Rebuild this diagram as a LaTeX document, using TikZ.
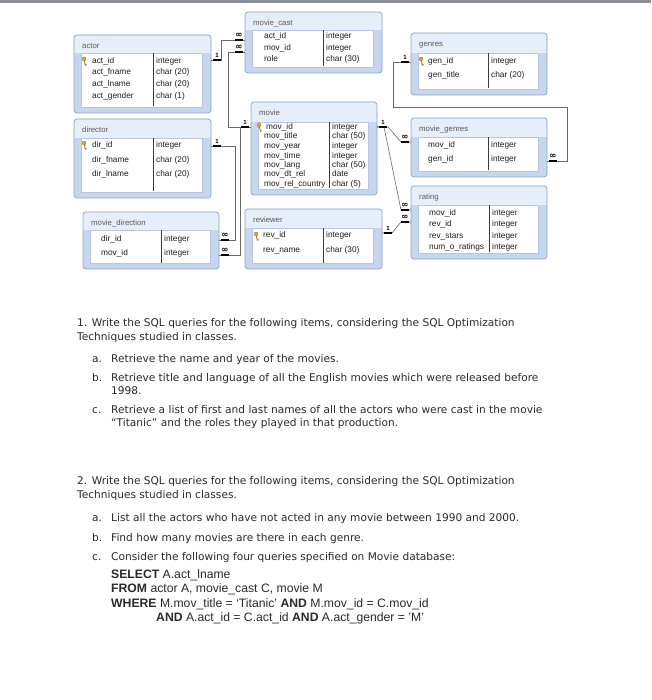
\documentclass[tikz,border=0pt]{standalone}
\usepackage{fontspec}
\setmainfont{DejaVu Sans}
\newfontfamily\tblfont{Liberation Sans}
\newfontfamily\sqlfont{Liberation Sans}
\newfontfamily\symfont{DejaVu Sans}
\definecolor{boxedge}{HTML}{8EA2C0}
\definecolor{boxbody}{HTML}{C5D6EE}
\definecolor{boxband}{HTML}{E6EEF9}
\definecolor{paneledge}{HTML}{B5C6DE}
\definecolor{divcol}{HTML}{3A3A3A}
\definecolor{titlecol}{HTML}{5A5A5A}
\definecolor{cellcol}{HTML}{1E1E1E}
\definecolor{linkcol}{HTML}{6A6A6A}
\definecolor{bodycol}{HTML}{2A2A2A}
\definecolor{topbar}{HTML}{8A8E96}
\definecolor{keycol}{HTML}{D9A925}
\tikzset{
  tbox/.style={draw=boxedge, fill=boxbody, rounded corners=3pt, line width=0.7pt, inner sep=0pt},
  tband/.style={fill=boxband},
  tpanel/.style={fill=white, draw=paneledge, line width=0.4pt},
  tdiv/.style={draw=divcol, line width=0.9pt},
  ttitle/.style={font=\tblfont\fontsize{7.8}{9}\selectfont, text=titlecol, anchor=base west, inner sep=0pt},
  tcell/.style={font=\tblfont\fontsize{8.3}{9}\selectfont, text=cellcol, anchor=base west, inner sep=0pt},
  link/.style={draw=linkcol, line width=0.6pt},
  markbar/.style={draw=black, line width=1.6pt},
  onetext/.style={font=\tblfont\bfseries\fontsize{6}{6}\selectfont, inner sep=0pt},
  manytext/.style={font=\symfont\bfseries\fontsize{8.5}{8}\selectfont, inner sep=0pt},
  body/.style={font=\fontsize{10.6}{12}\selectfont, text=bodycol, anchor=base west, inner sep=0pt},
  sql/.style={font=\sqlfont\fontsize{12.2}{14}\selectfont, text=bodycol, anchor=base west, inner sep=0pt},
}
% table: name, x1, y1, x2, y2, panel top, divider x, title
\newcommand{\erdbox}[8]{%
  \node[tbox, minimum width={(#4-#2)*1pt}, minimum height={(#5-#3)*1pt}] (#1) at ({(#2+#4)/2},{(#3+#5)/2}) {};
  \fill[tband] (#2+0.7,#6) [rounded corners=2.5pt] -- (#2+0.7,#3+0.7) -- (#4-0.7,#3+0.7) [sharp corners] -- (#4-0.7,#6) -- cycle;
  \draw[tpanel] (#2+7,#6) rectangle (#4-9,#5-6);
  \draw[tdiv] (#7,#6+0.5) -- (#7,#5-6.5);
  \node[ttitle] (#1-title) at (#2+8,#3+13.5) {#8};
}
% row: node name, name x, type x, baseline, name, type
\newcommand{\erdrow}[6]{%
  \node[tcell] (#1-n) at (#2,#4) {#5};
  \node[tcell] (#1-t) at (#3,#4) {#6};
}
\newcommand{\keyicon}[2]{%
  \draw[keycol!70!black, line width=0.9pt] (#1+0.3,#2-2) -- (#1+1.3,#2+3.2) -- (#1+2.6,#2+2.6);
  \fill[keycol, draw=keycol!70!black, line width=0.3pt] (#1,#2-3) circle (2);
}
% markers: name, coordinate, direction (1 right, -1 left)
\newcommand{\onemk}[3]{%
  \draw[markbar] ([xshift=#3*2pt]#2) -- ([xshift=#3*10pt]#2);
  \node[onetext] (#1) at ([xshift=#3*6pt, yshift=4.2pt]#2) {1};
}
\newcommand{\manymk}[3]{%
  \draw[markbar] ([xshift=#3*2pt]#2) -- ([xshift=#3*10pt]#2);
  \node[manytext] (#1) at ([xshift=#3*6pt, yshift=4.6pt]#2) {∞};
}
\begin{document}
\begin{tikzpicture}[x=1pt,y=-1pt]
\useasboundingbox (0,0) rectangle (651,700);
\fill[white] (0,0) rectangle (651,700);
\fill[topbar] (0,0) rectangle (651,3);

% ---- tables ----
\erdbox{actor}{74}{35}{211}{113}{53}{153}{actor}
\keyicon{84}{62}
\erdrow{actor-r1}{92}{156}{64}{act\_id}{integer}
\erdrow{actor-r2}{92}{156}{75}{act\_fname}{char (20)}
\erdrow{actor-r3}{92}{156}{87}{act\_lname}{char (20)}
\erdrow{actor-r4}{92}{156}{99}{act\_gender}{char (1)}

\erdbox{cast}{245}{12}{382}{73}{30}{323}{movie\_cast}
\erdrow{cast-r1}{264}{326}{39}{act\_id}{integer}
\erdrow{cast-r2}{264}{326}{51}{mov\_id}{integer}
\erdrow{cast-r3}{264}{326}{62}{role}{char (30)}

\erdbox{genres}{411}{33}{547}{95}{53}{488}{genres}
\keyicon{421}{62}
\erdrow{genres-r1}{428}{491}{64}{gen\_id}{integer}
\erdrow{genres-r2}{428}{491}{78}{gen\_title}{char (20)}

\erdbox{director}{74}{119}{211}{198}{138}{153}{director}
\keyicon{84}{146}
\erdrow{director-r1}{92}{156}{148}{dir\_id}{integer}
\erdrow{director-r2}{92}{156}{163}{dir\_fname}{char (20)}
\erdrow{director-r3}{92}{156}{177}{dir\_lname}{char (20)}

\erdbox{movie}{251}{102}{377}{195}{122}{329}{movie}
\keyicon{259}{128}
\erdrow{movie-r1}{266}{332}{130}{mov\_id}{integer}
\erdrow{movie-r2}{264}{332}{139}{mov\_title}{char (50)}
\erdrow{movie-r3}{264}{332}{148.7}{mov\_year}{integer}
\erdrow{movie-r4}{264}{332}{158.7}{mov\_time}{integer}
\erdrow{movie-r5}{264}{332}{168}{mov\_lang}{char (50)}
\erdrow{movie-r6}{264}{332}{177}{mov\_dt\_rel}{date}
\erdrow{movie-r7}{264}{332}{186.3}{mov\_rel\_country}{char (5)}

\erdbox{mgenres}{411}{118}{547}{177}{137}{488}{movie\_genres}
\erdrow{mgenres-r1}{428}{491}{147.5}{mov\_id}{integer}
\erdrow{mgenres-r2}{428}{491}{162}{gen\_id}{integer}

\erdbox{rating}{411}{186}{547}{259}{205}{489}{rating}
\erdrow{rating-r1}{429}{492}{215.5}{mov\_id}{integer}
\erdrow{rating-r2}{429}{492}{226.5}{rev\_id}{integer}
\erdrow{rating-r3}{429}{492}{238.8}{rev\_stars}{integer}
\erdrow{rating-r4}{429}{492}{249.2}{num\_o\_ratings}{integer}

\erdbox{mdir}{83}{212}{219}{269}{230}{161}{movie\_direction}
\erdrow{mdir-r1}{101}{164}{241.5}{dir\_id}{integer}
\erdrow{mdir-r2}{101}{164}{255.5}{mov\_id}{integer}

\erdbox{reviewer}{245}{209}{382}{269}{228}{323}{reviewer}
\keyicon{256}{237}
\erdrow{reviewer-r1}{263}{326}{238}{rev\_id}{integer}
\erdrow{reviewer-r2}{263}{326}{253}{rev\_name}{char (30)}

% ---- connector end points ----
\coordinate (actorR) at (211,60);
\coordinate (castL1) at (245,40);
\coordinate (castL2) at (245,52);
\coordinate (movieL) at (251,127);
\coordinate (dirR) at (211,146);
\coordinate (mdirR1) at (219,240);
\coordinate (mdirR2) at (219,255);
\coordinate (genresL) at (411,62);
\coordinate (mgenresR) at (547,161);
\coordinate (movieR) at (377,127);
\coordinate (mgenresL) at (411,142);
\coordinate (ratingL1) at (411,210);
\coordinate (ratingL2) at (411,222);
\coordinate (revR) at (382,233);

% ---- connectors ----
\draw[link] (actorR) -- ++(10,0) |- (castL1);
\draw[link] (castL2) -- ++(-17,0) |- (movieL);
\draw[link] (dirR) -- ++(24,0) |- (mdirR1);
\draw[link] (movieL) -- ++(-11,0) |- (mdirR2);
\draw[link] (genresL) -- ++(-18,0) -- ++(0,45) -- ++(174,0) |- (mgenresR);
\draw[link] (movieR) -- ++(11,0) -- ([xshift=-10pt]mgenresL) -- (mgenresL);
\draw[link] (movieR) -- ++(7,0) -- ([xshift=-10pt]ratingL1) -- (ratingL1);
\draw[link] (revR) -- ++(10,0) -- ([xshift=-10pt]ratingL2) -- (ratingL2);

% ---- markers ----
\onemk{m-actor}{actorR}{1}
\manymk{m-cast1}{castL1}{-1}
\manymk{m-cast2}{castL2}{-1}
\onemk{m-movieL}{movieL}{-1}
\onemk{m-dir}{dirR}{1}
\manymk{m-mdir1}{mdirR1}{1}
\manymk{m-mdir2}{mdirR2}{1}
\onemk{m-genres}{genresL}{-1}
\manymk{m-mgenresR}{mgenresR}{1}
\onemk{m-movieR}{movieR}{1}
\manymk{m-mgenresL}{mgenresL}{-1}
\manymk{m-rating1}{ratingL1}{-1}
\manymk{m-rating2}{ratingL2}{-1}
\onemk{m-rev}{revR}{1}

% ---- questions ----
\node[body] (q1a) at (77,326) {1. Write the SQL queries for the following items, considering the SQL Optimization};
\node[body] (q1b) at (77,340) {Techniques studied in classes.};
\node[body] (q1al) at (92,362) {a.};
\node[body] (q1at) at (111,362) {Retrieve the name and year of the movies.};
\node[body] (q1bl) at (92,381) {b.};
\node[body] (q1bt) at (111,381) {Retrieve title and language of all the English movies which were released before};
\node[body] (q1bt2) at (111,394) {1998.};
\node[body] (q1cl) at (92,413) {c.};
\node[body] (q1ct) at (111,413) {Retrieve a list of first and last names of all the actors who were cast in the movie};
\node[body] (q1ct2) at (111,426) {“Titanic” and the roles they played in that production.};

\node[body] (q2a) at (77,484) {2. Write the SQL queries for the following items, considering the SQL Optimization};
\node[body] (q2b) at (77,498) {Techniques studied in classes.};
\node[body] (q2al) at (92,521) {a.};
\node[body] (q2at) at (111,521) {List all the actors who have not acted in any movie between 1990 and 2000.};
\node[body] (q2bl) at (92,541) {b.};
\node[body] (q2bt) at (111,541) {Find how many movies are there in each genre.};
\node[body] (q2cl) at (92,560) {c.};
\node[body] (q2ct) at (111,560) {Consider the following four queries specified on Movie database:};

\node[sql] (s1) at (111,578) {\textbf{SELECT} A.act\_lname};
\node[sql] (s2) at (111,592) {\textbf{FROM} actor A, movie\_cast C, movie M};
\node[sql] (s3) at (111,607) {\textbf{WHERE} M.mov\_title = ‘Titanic’ \textbf{AND} M.mov\_id = C.mov\_id};
\node[sql] (s4) at (156,621) {\textbf{AND} A.act\_id = C.act\_id \textbf{AND} A.act\_gender = ’M’};
\end{tikzpicture}
\end{document}
